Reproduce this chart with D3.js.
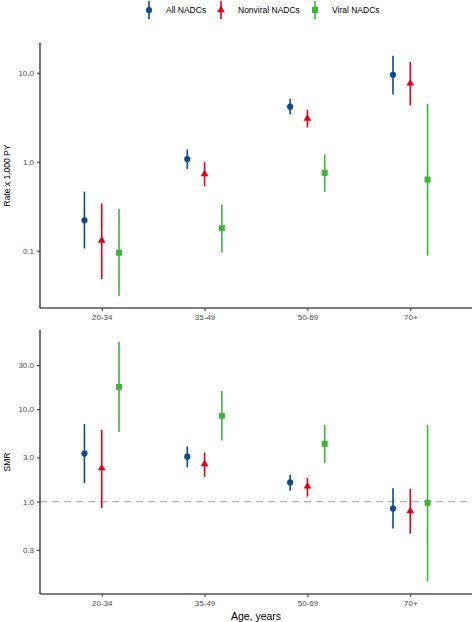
<!DOCTYPE html>
<html>
<head>
<meta charset="utf-8">
<script src="https://cdn.jsdelivr.net/npm/d3@7"></script>
<style>
  body { margin: 0; background: #fff; }
  svg { font-family: "Liberation Sans", Arial, sans-serif; }
</style>
</head>
<body>
<svg id="chart" width="474" height="622"></svg>
<script>
const ageGroups = ['20-34', '35-49', '50-69', '70+'];
const seriesNames = ['All NADCs', 'Nonviral NADCs', 'Viral NADCs'];
const colors = ['#0d4a8c', '#e3001b', '#3db53a'];

// rate x 1,000 PY: [estimate, lower, upper] by age group
const rateAll      = [[0.22, 0.106, 0.46], [1.07, 0.83, 1.37], [4.16, 3.43, 5.08], [9.5, 5.7, 15.5]];
const rateNonviral = [[0.13, 0.048, 0.34], [0.73, 0.53, 0.99], [3.07, 2.43, 3.84], [7.6, 4.3, 13.2]];
const rateViral    = [[0.095, 0.031, 0.294], [0.179, 0.097, 0.33], [0.75, 0.457, 1.21], [0.63, 0.088, 4.48]];

// SMR: [estimate, lower, upper]
const smrAll      = [[3.3, 1.59, 6.9], [3.06, 2.37, 3.95], [1.61, 1.31, 1.95], [0.84, 0.51, 1.39]];
const smrNonviral = [[2.3, 0.85, 5.98], [2.55, 1.85, 3.4], [1.46, 1.13, 1.8], [0.79, 0.45, 1.37]];
const smrViral    = [[17.4, 5.65, 53.6], [8.47, 4.58, 15.7], [4.22, 2.61, 6.72], [0.97, 0.137, 6.72]];

const rateTicks = [0.1, 1, 10];
const smrTicks = [0.3, 1, 3, 10, 30];

const svg = d3.select('#chart');
const left = 40, right = 472;

const x = d3.scaleLinear().domain([0.4, 4.6]).range([left, right]);
const dodge = d3.scaleLinear().domain([0, 2]).range([-0.168, 0.168]);

const symbols = [d3.symbolCircle, d3.symbolTriangle, d3.symbolSquare];
const symSize = [30, 26, 36];

const drawPanel = (top, bottom, y, ticks, data, yTitle, refLine) => {
    const g = svg.append('g');

    if (refLine) {
        g.append('line')
            .attr('x1', left).attr('x2', right)
            .attr('y1', y(refLine)).attr('y2', y(refLine))
            .style('stroke', '#b0b0b0')
            .style('stroke-width', 1.2)
            .style('stroke-dasharray', '7,5');
    }

    data.forEach((series, s) => {
        const grp = g.append('g');
        grp.selectAll('line')
            .data(series)
            .enter().append('line')
            .attr('x1', (d, i) => x(i + 1 + dodge(s)))
            .attr('x2', (d, i) => x(i + 1 + dodge(s)))
            .attr('y1', d => y(d[1]))
            .attr('y2', d => y(d[2]))
            .style('stroke', colors[s])
            .style('stroke-width', 1.6);
        grp.selectAll('path')
            .data(series)
            .enter().append('path')
            .attr('d', d3.symbol().type(symbols[s]).size(symSize[s]))
            .attr('transform', (d, i) => `translate(${x(i + 1 + dodge(s))},${y(d[0])})`)
            .style('fill', colors[s]);
    });

    const yAxis = g.append('g')
        .attr('transform', `translate(${left},0)`)
        .call(d3.axisLeft(y).tickValues(ticks).tickFormat(d3.format('.1f')).tickSize(3).tickPadding(3));
    const xAxis = g.append('g')
        .attr('transform', `translate(0,${bottom})`)
        .call(d3.axisBottom(x).tickValues([1, 2, 3, 4]).tickFormat(d => ageGroups[d - 1]).tickSize(3).tickPadding(3));

    [yAxis, xAxis].forEach(ax => {
        ax.select('.domain').style('stroke', '#000').style('stroke-width', 1.1);
        ax.selectAll('.tick line').style('stroke', '#333');
        ax.selectAll('.tick text').style('fill', '#4d4d4d').style('font-size', '8px');
    });
    yAxis.select('.domain').attr('d', `M0,${top}V${bottom}`);
    xAxis.select('.domain').attr('d', `M${left},0H${right}`);

    g.append('text')
        .attr('transform', `translate(10,${(top + bottom) / 2}) rotate(-90)`)
        .attr('text-anchor', 'middle')
        .style('font-size', '8.5px')
        .style('fill', '#000')
        .text(yTitle);
};

const yRate = d3.scaleLog().domain([0.0227, 21.6]).range([308, 43]);
drawPanel(43, 308, yRate, rateTicks, [rateAll, rateNonviral, rateViral], 'Rate x 1,000 PY', null);

const ySmr = d3.scaleLog().domain([0.1, 71.7]).range([594, 330]);
drawPanel(330, 594, ySmr, smrTicks, [smrAll, smrNonviral, smrViral], 'SMR', 1);

svg.append('text')
    .attr('x', (left + right) / 2)
    .attr('y', 620)
    .attr('text-anchor', 'middle')
    .style('font-size', '10.5px')
    .style('fill', '#000')
    .text('Age, years');

// legend
const legendX = [149, 221, 315];
const legend = svg.append('g')
    .selectAll('g')
    .data(seriesNames)
    .enter().append('g')
    .attr('transform', (d, i) => `translate(${legendX[i]},10)`);
legend.append('line')
    .attr('y1', -9).attr('y2', 9)
    .style('stroke', (d, i) => colors[i])
    .style('stroke-width', 1.6);
legend.append('path')
    .attr('d', (d, i) => d3.symbol().type(symbols[i]).size(symSize[i])())
    .style('fill', (d, i) => colors[i]);
legend.append('text')
    .attr('x', 17)
    .attr('y', 3)
    .style('font-size', '8.5px')
    .style('fill', '#000')
    .text(d => d);
</script>
</body>
</html>
